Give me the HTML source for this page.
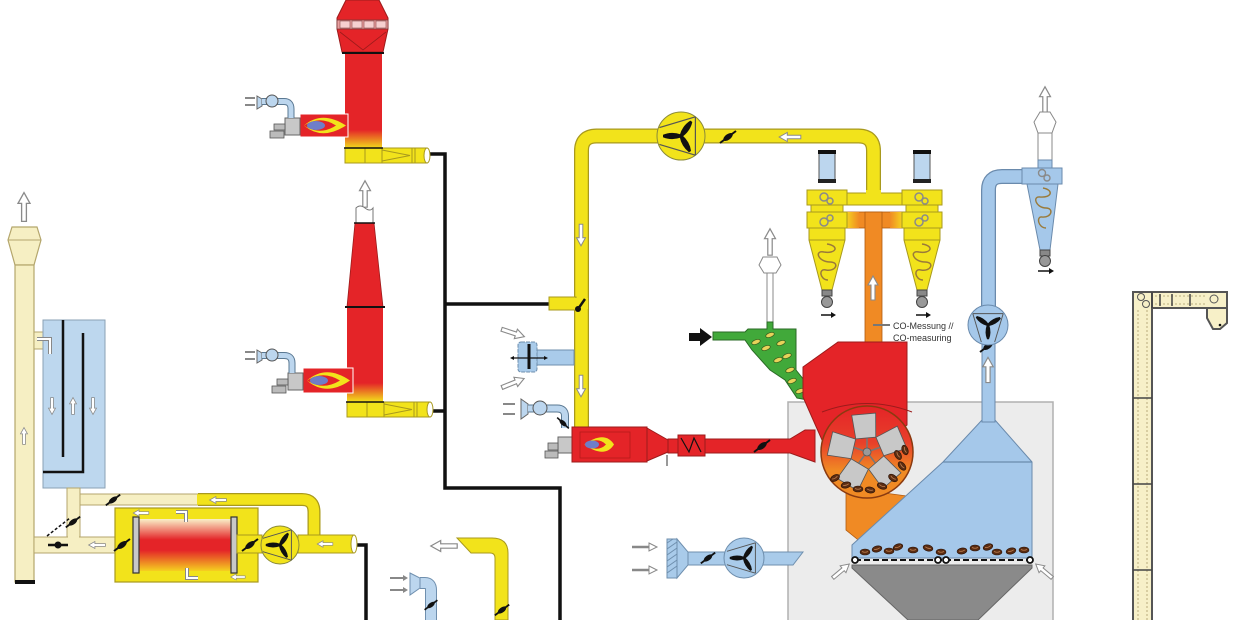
<!DOCTYPE html>
<html><head><meta charset="utf-8"><style>html,body{margin:0;padding:0;background:#fff}svg{display:block}</style></head>
<body>
<svg xmlns="http://www.w3.org/2000/svg" width="1240" height="620" viewBox="0 0 1240 620">
<defs>
<linearGradient id="gch" x1="0" y1="0" x2="0" y2="1"><stop offset="0" stop-color="#e42428"/><stop offset="0.8" stop-color="#e42428"/><stop offset="1" stop-color="#f2e31b"/></linearGradient>
<linearGradient id="ghx" x1="0" y1="0" x2="0" y2="1"><stop offset="0" stop-color="#faf0c8"/><stop offset="0.4" stop-color="#e42428"/><stop offset="0.6" stop-color="#e42428"/><stop offset="1" stop-color="#f5d020"/></linearGradient>
<linearGradient id="gdr" x1="0" y1="0" x2="0" y2="1"><stop offset="0" stop-color="#e42428"/><stop offset="0.4" stop-color="#e8402a"/><stop offset="0.7" stop-color="#f08a24"/><stop offset="1" stop-color="#f08a24"/></linearGradient>
<linearGradient id="goyL" x1="0" y1="0" x2="1" y2="0"><stop offset="0" stop-color="#f5d020"/><stop offset="1" stop-color="#f08a24"/></linearGradient>
<linearGradient id="goyR" x1="0" y1="0" x2="1" y2="0"><stop offset="0" stop-color="#f08a24"/><stop offset="1" stop-color="#f5d020"/></linearGradient>
<g id="arr"><polygon points="-12,-2 3,-2 3,-5 12,0 3,5 3,2 -12,2" fill="#fff" stroke="#8a8a8a" stroke-width="1.1"/></g>
<g id="dmp"><line x1="-8" y1="6" x2="8" y2="-6" stroke="#111" stroke-width="2"/><ellipse rx="5.5" ry="2.8" transform="rotate(-37)" fill="#111"/></g>
<g id="fanp">
 <g fill="none" stroke="#555" stroke-width="1"><line x1="-18" y1="-7" x2="12" y2="-16"/><line x1="-18" y1="7" x2="12" y2="16"/><line x1="12" y1="-16" x2="12" y2="16"/></g>
 <g fill="#111"><path d="M0,-1.3 Q8,-4 15,-1 L15,1 Q8,4 0,1.3Z" transform="rotate(180)"/><path d="M0,-1.3 Q8,-4 15,-1 L15,1 Q8,4 0,1.3Z" transform="rotate(-55)"/><path d="M0,-1.3 Q8,-4 15,-1 L15,1 Q8,4 0,1.3Z" transform="rotate(60)"/></g>
</g>
<g id="bean"><ellipse rx="5" ry="3" fill="#5a2c12" stroke="#2a1206" stroke-width="0.6"/><path d="M-3,-0.5 Q0,1 3,-0.5" stroke="#c08050" stroke-width="0.8" fill="none"/></g>
<g id="gbean"><ellipse rx="4.5" ry="2.2" fill="#e8d35a" stroke="#3a5a1a" stroke-width="0.7"/></g>
</defs>

<!-- grey box -->
<rect x="788" y="402" width="265" height="230" fill="#ececec" stroke="#b0b0b0" stroke-width="1.5"/>

<!-- black lines -->
<g fill="none" stroke="#111" stroke-width="3.5">
<path d="M424,154 L445,154 L445,488 L560,488 L560,620"/>
<path d="M430,411 L445,411"/>
<path d="M445,304 L551,304"/>
<path d="M352,545 L366,545 L366,620"/>
</g>

<!-- far left column -->
<use href="#arr" transform="translate(24,207) rotate(-90) scale(1.2)"/>
<polygon points="12,227 37,227 41,240 34,265 15,265 8,240" fill="#f6efc3" stroke="#b4a66c" stroke-width="1.2"/>
<line x1="8" y1="240" x2="41" y2="240" stroke="#b4a66c"/>
<rect x="15" y="265" width="19" height="317" fill="#f6efc3" stroke="#b4a66c" stroke-width="1.2"/>
<rect x="15" y="580" width="20" height="4" fill="#111"/>
<use href="#arr" transform="translate(24,436) rotate(-90) scale(0.7)"/>
<rect x="34" y="332" width="10" height="17" fill="#f6efc3" stroke="#b4a66c"/>
<rect x="43" y="320" width="62" height="168" fill="#bdd7ee" stroke="#8aa0b4" stroke-width="1"/>
<path d="M37,339 L50,339 L50,354" fill="none" stroke="#888" stroke-width="4"/>
<path d="M37,339 L50,339 L50,354" fill="none" stroke="#fff" stroke-width="2"/>
<g fill="none" stroke="#111" stroke-width="2.5"><path d="M63,320 L63,457"/><path d="M83,333 L83,472 L43,472"/></g>
<use href="#arr" transform="translate(52,406) rotate(90) scale(0.7)"/>
<use href="#arr" transform="translate(73,406) rotate(-90) scale(0.7)"/>
<use href="#arr" transform="translate(93,406) rotate(90) scale(0.7)"/>

<!-- cream pipes -->
<rect x="67" y="488" width="13" height="50" fill="#f6efc3" stroke="#b4a66c"/>
<rect x="80" y="494" width="118" height="11" fill="#f6efc3" stroke="#b4a66c"/>
<rect x="34" y="537" width="82" height="16" fill="#f6efc3" stroke="#b4a66c"/>
<rect x="68" y="530" width="11" height="10" fill="#f6efc3"/>
<use href="#arr" transform="translate(97,545) rotate(180) scale(0.7)"/>

<!-- yellow upper duct bottom-left -->
<path d="M198,499.5 L302,499.5 Q314,499.5 314,512 L314,536" fill="none" stroke="#a8991e" stroke-width="13"/>
<path d="M197,499.5 L302,499.5 Q314,499.5 314,512 L314,537" fill="none" stroke="#f2e31b" stroke-width="10.5"/>
<use href="#arr" transform="translate(218,500) rotate(180) scale(0.7)"/>

<!-- heat exchanger -->
<rect x="115" y="508" width="143" height="74" fill="#f2e31b" stroke="#a8991e" stroke-width="1.2"/>
<rect x="139" y="519" width="92" height="52" fill="url(#ghx)"/>
<rect x="133" y="517" width="6" height="56" fill="#c8c8c8" stroke="#333" stroke-width="1.2"/>
<rect x="231" y="517" width="6" height="56" fill="#c8c8c8" stroke="#333" stroke-width="1.2"/>
<use href="#arr" transform="translate(141,513) rotate(180) scale(0.65)"/>
<path d="M176,512 L186,512 L186,522" fill="none" stroke="#888" stroke-width="4"/><path d="M176,512 L186,512 L186,522" fill="none" stroke="#fff" stroke-width="2"/>
<path d="M187,568 L187,578 L198,578" fill="none" stroke="#888" stroke-width="4"/><path d="M187,568 L187,578 L198,578" fill="none" stroke="#fff" stroke-width="2"/>
<use href="#arr" transform="translate(238,577) rotate(180) scale(0.6)"/>
<!-- yellow fan duct -->
<rect x="237" y="535" width="25" height="18" fill="#f2e31b" stroke="#a8991e"/>
<rect x="298" y="535" width="56" height="18" fill="#f2e31b" stroke="#a8991e"/>
<ellipse cx="354" cy="544" rx="3" ry="9" fill="#fff" stroke="#a8991e"/>
<use href="#arr" transform="translate(325,544) rotate(180) scale(0.65)"/>
<circle cx="280" cy="545" r="19" fill="#f2e31b" stroke="#8a8a3a" stroke-width="1"/>
<use href="#fanp" transform="translate(280,545) scale(0.95)"/>
<use href="#dmp" transform="translate(113,500) scale(0.9)"/>
<use href="#dmp" transform="translate(73,522) scale(0.9)"/>
<use href="#dmp" transform="translate(122,545)"/>
<use href="#dmp" transform="translate(250,545)"/>
<line x1="47" y1="536" x2="70" y2="518" stroke="#111" stroke-width="1.5" stroke-dasharray="3,2"/>
<line x1="48" y1="545" x2="68" y2="545" stroke="#111" stroke-width="2.5"/><circle cx="58" cy="545" r="3.5" fill="#111"/>

<!-- chimney 1 -->
<polygon points="346,0 379,0 388,18 388,29 383,52 342,52 337,29 337,18" fill="#e42428" stroke="#9c1b1b" stroke-width="1"/>
<rect x="337" y="20" width="51" height="9" fill="#e9a0a0" stroke="#7a3a3a" stroke-width="0.8"/>
<g fill="#f6d0d0" stroke="#8a4a4a" stroke-width="0.6"><rect x="340" y="21" width="10" height="7"/><rect x="352" y="21" width="10" height="7"/><rect x="364" y="21" width="10" height="7"/><rect x="376" y="21" width="10" height="7"/></g>
<path d="M340,32 L363,50 L386,32" fill="none" stroke="#9c1b1b" stroke-width="0.8"/>
<rect x="345" y="53" width="37" height="96" fill="url(#gch)"/>
<line x1="342" y1="53" x2="384" y2="53" stroke="#111" stroke-width="2"/>
<rect x="345" y="148" width="82" height="15" fill="#f2e31b" stroke="#a8991e"/>
<g stroke="#a8991e" fill="none"><line x1="365" y1="148" x2="365" y2="163"/><line x1="382" y1="148" x2="382" y2="163"/><path d="M382,150 L410,155.5 L382,161"/><line x1="412" y1="148" x2="412" y2="163"/><line x1="415" y1="148" x2="415" y2="163"/></g>
<line x1="344" y1="148" x2="383" y2="148" stroke="#111" stroke-width="1.5"/>
<ellipse cx="427" cy="155.5" rx="3" ry="7.5" fill="#fff" stroke="#a8991e"/>
<!-- burner 1 -->
<rect x="300" y="114" width="48" height="23" fill="#e42428" stroke="#fff" stroke-width="1"/>
<path d="M304,125.5 Q322,110 346,125.5 Q322,141 304,125.5Z" fill="#f2e31b"/>
<path d="M304,125.5 Q320,115 336,125.5 Q320,136 304,125.5Z" fill="#e42428"/>
<ellipse cx="316" cy="125.5" rx="9" ry="4.5" fill="#6f7ec8"/>
<rect x="285" y="118" width="15" height="17" fill="#c8c8c8" stroke="#666"/>
<g fill="#bbb" stroke="#555" stroke-width="0.8"><rect x="274" y="124" width="11" height="6"/><rect x="270" y="131" width="14" height="7"/></g>
<line x1="245" y1="98" x2="255" y2="98" stroke="#888" stroke-width="2"/><line x1="245" y1="105" x2="255" y2="105" stroke="#888" stroke-width="2"/>
<polygon points="257,96 262,99 262,106 257,109" fill="#bcd6ee" stroke="#666"/>
<path d="M262,101.5 L284,101.5 Q291,101.5 291,109 L291,118" fill="none" stroke="#5a7892" stroke-width="7"/>
<path d="M262,101.5 L284,101.5 Q291,101.5 291,109 L291,118" fill="none" stroke="#bcd6ee" stroke-width="5"/>
<circle cx="272" cy="101" r="6" fill="#bcd6ee" stroke="#555"/>

<!-- chimney 2 -->
<use href="#arr" transform="translate(365,194) rotate(-90) scale(1.1)"/>
<path d="M356,208 Q360,204 365,208 Q370,212 373,208 L373,223 L356,223Z" fill="#fff" stroke="#777"/>
<polygon points="355,223 374,223 383,307 347,307" fill="#e42428" stroke="#9c1b1b" stroke-width="0.8"/>
<line x1="354" y1="223" x2="375" y2="223" stroke="#111" stroke-width="1.5"/>
<rect x="347" y="307" width="36" height="95" fill="url(#gch)"/>
<line x1="345" y1="307" x2="385" y2="307" stroke="#111" stroke-width="2"/>
<rect x="347" y="402" width="83" height="15" fill="#f2e31b" stroke="#a8991e"/>
<g stroke="#a8991e" fill="none"><line x1="367" y1="402" x2="367" y2="417"/><line x1="384" y1="402" x2="384" y2="417"/><path d="M384,404 L412,409.5 L384,415"/><line x1="414" y1="402" x2="414" y2="417"/><line x1="417" y1="402" x2="417" y2="417"/></g>
<line x1="346" y1="402" x2="384" y2="402" stroke="#111" stroke-width="1.5"/>
<ellipse cx="430" cy="409.5" rx="3" ry="7.5" fill="#fff" stroke="#a8991e"/>
<!-- burner 2 -->
<rect x="303" y="368" width="50" height="25" fill="#e42428" stroke="#fff" stroke-width="1"/>
<path d="M307,380.5 Q326,364 350,380.5 Q326,397 307,380.5Z" fill="#f2e31b"/>
<path d="M307,380.5 Q323,370 340,380.5 Q323,391 307,380.5Z" fill="#e42428"/>
<ellipse cx="319" cy="380.5" rx="9" ry="4.5" fill="#6f7ec8"/>
<rect x="288" y="373" width="15" height="17" fill="#c8c8c8" stroke="#666"/>
<g fill="#bbb" stroke="#555" stroke-width="0.8"><rect x="277" y="379" width="11" height="6"/><rect x="272" y="386" width="14" height="7"/></g>
<line x1="245" y1="352" x2="255" y2="352" stroke="#888" stroke-width="2"/><line x1="245" y1="359" x2="255" y2="359" stroke="#888" stroke-width="2"/>
<polygon points="257,350 262,353 262,360 257,363" fill="#bcd6ee" stroke="#666"/>
<path d="M262,355.5 L284,355.5 Q292,355.5 292,363 L292,373" fill="none" stroke="#5a7892" stroke-width="7"/>
<path d="M262,355.5 L284,355.5 Q292,355.5 292,363 L292,373" fill="none" stroke="#bcd6ee" stroke-width="5"/>
<circle cx="272" cy="355" r="6" fill="#bcd6ee" stroke="#555"/>

<!-- main yellow loop -->
<path d="M581.5,428 L581.5,151 Q581.5,136 596.5,136 L858.5,136 Q873.5,136 873.5,151 L873.5,200" fill="none" stroke="#a8991e" stroke-width="15"/>
<path d="M581.5,429 L581.5,151 Q581.5,136 596.5,136 L858.5,136 Q873.5,136 873.5,151 L873.5,201" fill="none" stroke="#f2e31b" stroke-width="12.5"/>
<rect x="549" y="297" width="27" height="13" fill="#f2e31b" stroke="#a8991e"/>
<rect x="575" y="298" width="13" height="11" fill="#f2e31b"/>
<use href="#arr" transform="translate(581,235) rotate(90) scale(0.9)"/>
<use href="#arr" transform="translate(581,386) rotate(90) scale(0.9)"/>
<use href="#arr" transform="translate(790,137) rotate(180) scale(0.9)"/>
<use href="#dmp" transform="translate(728,137)"/>
<g transform="translate(578,309)"><line x1="0" y1="0" x2="7" y2="-10" stroke="#111" stroke-width="2.5"/><circle r="3" fill="#111"/></g>
<circle cx="681" cy="136" r="24" fill="#f2e31b" stroke="#8a8a3a" stroke-width="1"/>
<use href="#fanp" transform="translate(681,136) scale(1.2)"/>

<!-- cyclones -->
<rect x="847" y="193" width="55" height="12" fill="#f2e31b" stroke="#a8991e"/>
<rect x="866" y="190" width="15" height="8" fill="#f2e31b"/>
<!-- orange -->
<rect x="847" y="212" width="55" height="16" fill="#f08a24" stroke="#b05a10" stroke-width="0.8"/>
<rect x="847" y="212" width="12" height="16" fill="url(#goyL)"/>
<rect x="890" y="212" width="12" height="16" fill="url(#goyR)"/>
<rect x="865" y="212" width="17" height="132" fill="#f08a24" stroke="#b05a10" stroke-width="0.8"/>
<rect x="866" y="213" width="15" height="15" fill="#f08a24"/>
<use href="#arr" transform="translate(873,288) rotate(-90) scale(1)"/>
<g id="cyc">
<rect x="819" y="152" width="16" height="30" fill="#bcd6ee" stroke="#555"/>
<rect x="818" y="150" width="18" height="4" fill="#111"/>
<rect x="818" y="179" width="18" height="4" fill="#222"/>
<rect x="807" y="190" width="40" height="15" fill="#f2e31b" stroke="#a8991e"/>
<rect x="811" y="205" width="32" height="7" fill="#f2e31b" stroke="#a8991e"/>
<rect x="807" y="212" width="40" height="16" fill="#f2e31b" stroke="#a8991e"/>
<polygon points="809,228 845,228 845,240 832,290 822,290 809,240" fill="#f2e31b" stroke="#a8991e"/>
<line x1="809" y1="240" x2="845" y2="240" stroke="#a8991e"/>
<path d="M827,244 C840,246 836,254 824,252 C814,250 818,262 830,262 C840,262 836,272 826,270 C818,268 820,280 828,280" fill="none" stroke="#9a7a3a" stroke-width="1.5"/>
<g fill="none" stroke="#8a8a8a" stroke-width="1.5"><circle cx="824" cy="197" r="4"/><circle cx="830" cy="201" r="3"/><circle cx="824" cy="222" r="4"/><circle cx="830" cy="218" r="3"/></g>
<rect x="822" y="290" width="10" height="6" fill="#888" stroke="#444"/>
<circle cx="827" cy="302" r="5.5" fill="#999" stroke="#444"/>
<line x1="821" y1="315" x2="831" y2="315" stroke="#111" stroke-width="1.5"/><polygon points="831,312 836,315 831,318" fill="#111"/>
</g>
<use href="#cyc" transform="translate(95,0)"/>
<line x1="873" y1="325" x2="890" y2="325" stroke="#777" stroke-width="2"/>
<text x="893" y="329" font-family="Liberation Sans, sans-serif" font-size="9" fill="#333">CO-Messung //</text>
<text x="893" y="341" font-family="Liberation Sans, sans-serif" font-size="9" fill="#333">CO-measuring</text>

<!-- white stack green -->
<use href="#arr" transform="translate(770,242) rotate(-90) scale(1.1)"/>
<polygon points="763,257 777,257 781,265 776,273 764,273 759,265" fill="#fff" stroke="#888"/>
<rect x="767" y="273" width="6" height="50" fill="#fff" stroke="#888"/>
<!-- green hopper -->
<polygon points="689,333 700,333 700,328 712,337 700,346 700,341 689,341" fill="#111"/>
<polygon points="713,332 745,332 748,329 767,329 767,322 773,322 773,329 796,329 796,370 808,385 808,400 797,398 785,380 770,370 752,350 745,340 713,340" fill="#41a93a" stroke="#2a6a25" stroke-width="1"/>
<use href="#gbean" transform="translate(770,335) rotate(-20)"/>
<use href="#gbean" transform="translate(781,343) rotate(-20)"/>
<use href="#gbean" transform="translate(766,348) rotate(-20)"/>
<use href="#gbean" transform="translate(787,356) rotate(-20)"/>
<use href="#gbean" transform="translate(778,360) rotate(-20)"/>
<use href="#gbean" transform="translate(790,370) rotate(-20)"/>
<use href="#gbean" transform="translate(792,381) rotate(-20)"/>
<use href="#gbean" transform="translate(800,391) rotate(-20)"/>
<use href="#gbean" transform="translate(756,342) rotate(-20)"/>

<!-- blue inlet near yellow -->
<use href="#arr" transform="translate(513,333) rotate(18) scale(1)"/>
<use href="#arr" transform="translate(513,383) rotate(-22) scale(1)"/>
<rect x="537" y="350" width="37" height="15" fill="#a9cbea" stroke="#6f8fae"/>
<rect x="518" y="342" width="19" height="30" rx="3" fill="#a9cbea" stroke="#6f8fae" stroke-dasharray="4,1"/>
<line x1="529" y1="344" x2="529" y2="369" stroke="#111" stroke-width="3"/>
<line x1="512" y1="358" x2="546" y2="358" stroke="#111" stroke-width="1.2"/>
<polygon points="510,358 514,356 514,360" fill="#111"/><polygon points="548,358 544,356 544,360" fill="#111"/>
<!-- burner 3 -->
<line x1="503" y1="404" x2="515" y2="404" stroke="#888" stroke-width="2"/><line x1="503" y1="414" x2="515" y2="414" stroke="#888" stroke-width="2"/>
<polygon points="521,399 528,404 528,414 521,419" fill="#bcd6ee" stroke="#666"/>
<path d="M528,408.5 L557,408.5 Q565,408.5 565,416 L565,428" fill="none" stroke="#5a7892" stroke-width="8"/>
<path d="M528,408.5 L557,408.5 Q565,408.5 565,416 L565,428" fill="none" stroke="#bcd6ee" stroke-width="6"/>
<circle cx="540" cy="408" r="7" fill="#bcd6ee" stroke="#555"/>
<use href="#dmp" transform="translate(563,423) rotate(80) scale(0.8)"/>
<rect x="558" y="437" width="15" height="16" fill="#c8c8c8" stroke="#666"/>
<g fill="#bbb" stroke="#555" stroke-width="0.8"><rect x="548" y="443" width="10" height="7"/><rect x="545" y="451" width="13" height="7"/></g>

<!-- red burner pipe -->
<rect x="572" y="427" width="75" height="35" fill="#e42428" stroke="#9c1b1b"/>
<rect x="580" y="432" width="50" height="26" fill="none" stroke="#b51a1a" stroke-width="0.8"/>
<path d="M584,444.5 Q605,430 614,444.5 Q605,459 584,444.5Z" fill="#f2e31b"/>
<path d="M584,444.5 Q598,436 606,444.5 Q598,453 584,444.5Z" fill="#e42428"/>
<ellipse cx="592" cy="444.5" rx="7" ry="4" fill="#6f7ec8"/>
<polygon points="647,428 668,440 668,452 647,461" fill="#e42428" stroke="#9c1b1b"/>
<line x1="667" y1="455" x2="667" y2="466" stroke="#777" stroke-width="1.5"/>
<polygon points="668,439 790,439 805,430 815,430 815,462 790,453 668,453" fill="#e42428" stroke="#9c1b1b"/>
<rect x="678" y="435" width="27" height="21" fill="#e42428" stroke="#9c1b1b"/>
<path d="M681,438 L689,452 L694,438 L701,452" fill="none" stroke="#111" stroke-width="1.2"/>
<use href="#dmp" transform="translate(762,446)"/>

<!-- orange chute & cooler -->
<polygon points="846,488 907,496 862,543 846,530" fill="#f08a24" stroke="#b05a10" stroke-width="0.8"/>
<polygon points="982,420 995,420 1032,462 1032,558 852,558 852,545 943,462" fill="#a5c8ea" stroke="#6a8aac" stroke-width="1"/>
<line x1="943" y1="462" x2="1032" y2="462" stroke="#6a8aac" stroke-width="1.2"/>
<rect x="982" y="340" width="13" height="82" fill="#a5c8ea" stroke="#6a8aac"/>
<path d="M988.5,340 L988.5,190 Q988.5,176.5 1002,176.5 L1023,176.5" fill="none" stroke="#6a8aac" stroke-width="15"/>
<path d="M988.5,341 L988.5,190 Q988.5,176.5 1002,176.5 L1023,176.5" fill="none" stroke="#a5c8ea" stroke-width="12.5"/>
<rect x="983" y="300" width="11" height="121" fill="#a5c8ea"/>
<use href="#dmp" transform="translate(988,346)"/>
<use href="#arr" transform="translate(988,370) rotate(-90) scale(1.05)"/>
<circle cx="988" cy="325" r="20" fill="#a5c8ea" stroke="#6a8aac" stroke-width="1"/>
<use href="#fanp" transform="translate(988,325) rotate(-90) scale(0.95)"/>
<!-- blue cyclone -->
<use href="#arr" transform="translate(1045,100) rotate(-90) scale(1.1)"/>
<polygon points="1040,112 1050,112 1056,122 1052,133 1038,133 1034,122" fill="#fff" stroke="#888"/>
<rect x="1038" y="133" width="14" height="35" fill="#fff" stroke="#888"/>
<rect x="1038" y="160" width="14" height="8" fill="#a5c8ea" stroke="#6a8aac"/>
<rect x="1022" y="168" width="40" height="16" fill="#a5c8ea" stroke="#6a8aac"/>
<polygon points="1027,184 1058,184 1050,250 1040,250" fill="#a5c8ea" stroke="#6a8aac"/>
<path d="M1043,188 C1054,190 1052,198 1040,197 C1032,196 1036,208 1046,208 C1054,208 1052,218 1042,217 C1036,216 1038,228 1046,228" fill="none" stroke="#9a7a3a" stroke-width="1.4"/>
<g fill="none" stroke="#8a8a8a" stroke-width="1.4"><circle cx="1042" cy="173" r="3.5"/><circle cx="1047" cy="178" r="3"/></g>
<rect x="1040" y="250" width="10" height="6" fill="#888" stroke="#444"/>
<circle cx="1045" cy="261" r="5.5" fill="#999" stroke="#444"/>
<line x1="1038" y1="271" x2="1049" y2="271" stroke="#111" stroke-width="1.5"/><polygon points="1049,268 1054,271 1049,274" fill="#111"/>

<!-- red roaster body -->
<polygon points="838,342 907,342 907,425 870,455 822,440 803,397 803,367" fill="#e42428" stroke="#9c1b1b"/>
<circle cx="867" cy="452" r="46" fill="url(#gdr)" stroke="#8a3a10" stroke-width="1.5"/>
<path d="M822,412 Q867,395 912,412" fill="none" stroke="#9c1b1b" stroke-width="1"/>
<g transform="translate(867,452)" fill="#c8c8c8" stroke="#555" stroke-width="0.8">
<g stroke="#777" stroke-width="1.5"><line x1="0" y1="0" x2="0" y2="-30"/><line x1="0" y1="0" x2="28" y2="-10"/><line x1="0" y1="0" x2="18" y2="24"/><line x1="0" y1="0" x2="-18" y2="24"/><line x1="0" y1="0" x2="-28" y2="-10"/></g>
<polygon points="14,-10 38,-12 38,12 14,10" transform="rotate(-95)"/>
<polygon points="14,-10 38,-12 38,12 14,10" transform="rotate(-23)"/>
<polygon points="14,-10 38,-12 38,12 14,10" transform="rotate(49)"/>
<polygon points="14,-10 38,-12 38,12 14,10" transform="rotate(121)"/>
<polygon points="14,-10 38,-12 38,12 14,10" transform="rotate(193)"/>
<circle r="4" fill="#999"/>
</g>
<use href="#bean" transform="translate(835,478) rotate(-30)"/>
<use href="#bean" transform="translate(846,485) rotate(-15)"/>
<use href="#bean" transform="translate(858,489)"/>
<use href="#bean" transform="translate(870,490) rotate(10)"/>
<use href="#bean" transform="translate(882,486) rotate(20)"/>
<use href="#bean" transform="translate(893,478) rotate(35)"/>
<use href="#bean" transform="translate(902,466) rotate(50)"/>
<use href="#bean" transform="translate(898,455) rotate(60)"/>
<use href="#bean" transform="translate(905,450) rotate(70)"/>
<!-- cooler beans -->
<use href="#bean" transform="translate(865,552)"/>
<use href="#bean" transform="translate(877,549) rotate(-15)"/>
<use href="#bean" transform="translate(889,551)"/>
<use href="#bean" transform="translate(898,547) rotate(-20)"/>
<use href="#bean" transform="translate(913,550)"/>
<use href="#bean" transform="translate(928,548) rotate(15)"/>
<use href="#bean" transform="translate(941,552)"/>
<use href="#bean" transform="translate(962,551) rotate(-10)"/>
<use href="#bean" transform="translate(975,548)"/>
<use href="#bean" transform="translate(988,547) rotate(-20)"/>
<use href="#bean" transform="translate(997,552)"/>
<use href="#bean" transform="translate(1011,551) rotate(-15)"/>
<use href="#bean" transform="translate(1024,550)"/>
<line x1="855" y1="560" x2="1030" y2="560" stroke="#111" stroke-width="2" stroke-dasharray="6,3"/>
<g fill="#fff" stroke="#111" stroke-width="1.8"><circle cx="855" cy="560" r="3"/><circle cx="938" cy="560" r="3"/><circle cx="946" cy="560" r="3"/><circle cx="1030" cy="560" r="3"/></g>
<polygon points="852,565 1032,565 1032,568 978,620 908,620 852,568" fill="#8a8a8a" stroke="#666"/>
<use href="#arr" transform="translate(841,571) rotate(-40) scale(0.9)"/>
<use href="#arr" transform="translate(1044,571) rotate(-140) scale(0.9)"/>

<!-- bottom blue fan assembly -->
<line x1="632" y1="547" x2="650" y2="547" stroke="#888" stroke-width="2.5"/><polygon points="649,543 657,547 649,551" fill="#fff" stroke="#888"/>
<line x1="632" y1="570" x2="650" y2="570" stroke="#888" stroke-width="2.5"/><polygon points="649,566 657,570 649,574" fill="#fff" stroke="#888"/>
<rect x="667" y="539" width="10" height="39" fill="#a9cbea" stroke="#6f8fae"/>
<g stroke="#6f8fae" stroke-width="1"><line x1="667" y1="543" x2="673" y2="539"/><line x1="667" y1="549" x2="677" y2="542"/><line x1="667" y1="555" x2="677" y2="548"/><line x1="667" y1="561" x2="677" y2="554"/><line x1="667" y1="567" x2="677" y2="560"/><line x1="667" y1="573" x2="677" y2="566"/></g>
<polygon points="677,539 688,552 688,565 677,578" fill="#a9cbea" stroke="#6f8fae"/>
<rect x="688" y="552" width="40" height="13" fill="#a9cbea" stroke="#6f8fae"/>
<polygon points="760,552 803,552 793,565 760,565" fill="#a9cbea" stroke="#6f8fae"/>
<use href="#dmp" transform="translate(708,558) scale(0.9)"/>
<circle cx="744" cy="558" r="20" fill="#a9cbea" stroke="#6f8fae"/>
<use href="#fanp" transform="translate(744,558) scale(0.95)"/>

<!-- bottom center pipes -->
<use href="#arr" transform="translate(444,546) rotate(180) scale(1.1)"/>
<path d="M457,538 L492,538 Q508,538 508,553 L508,620 L495,620 L495,558 Q495,553 490,553 L471,553 Z" fill="#f2e31b" stroke="#a8991e"/>
<use href="#dmp" transform="translate(502,610) scale(0.9)"/>
<line x1="390" y1="578" x2="404" y2="578" stroke="#888" stroke-width="2"/><polygon points="403,575 408,578 403,581" fill="#888"/>
<line x1="390" y1="590" x2="404" y2="590" stroke="#888" stroke-width="2"/><polygon points="403,587 408,590 403,593" fill="#888"/>
<path d="M420,583 L425,583 Q431,583 431,590 L431,620" fill="none" stroke="#6f8fae" stroke-width="12"/>
<path d="M420,583 L425,583 Q431,583 431,590 L431,621" fill="none" stroke="#bcd6ee" stroke-width="10"/>
<polygon points="410,573 420,578 420,588 410,595" fill="#bcd6ee" stroke="#6f8fae"/>
<use href="#dmp" transform="translate(431,605) scale(0.8)"/>

<!-- far right structure -->
<g stroke="#555" stroke-width="2" fill="#f7f0c8">
<rect x="1133" y="292" width="94" height="16"/>
<rect x="1133" y="292" width="19" height="330"/>
<polygon points="1207,308 1227,308 1227,323 1220,329 1213,329 1207,318"/>
</g>
<g stroke="#a89a6a" stroke-width="0.8" stroke-dasharray="2,2" fill="none"><line x1="1138" y1="310" x2="1138" y2="620"/><line x1="1147" y1="310" x2="1147" y2="620"/><line x1="1155" y1="296" x2="1205" y2="296"/><line x1="1155" y1="304" x2="1205" y2="304"/></g>
<g stroke="#444" stroke-width="1.5"><line x1="1133" y1="398" x2="1152" y2="398"/><line x1="1133" y1="484" x2="1152" y2="484"/><line x1="1133" y1="570" x2="1152" y2="570"/><line x1="1152" y1="308" x2="1152" y2="292"/><line x1="1160" y1="294" x2="1160" y2="306"/><line x1="1172" y1="294" x2="1172" y2="306"/><line x1="1190" y1="294" x2="1190" y2="306"/></g>
<g fill="none" stroke="#555" stroke-width="1"><circle cx="1141" cy="297" r="3.5"/><circle cx="1146" cy="304" r="3.5"/><circle cx="1214" cy="299" r="4"/></g>
<circle cx="1220" cy="325" r="1.3" fill="#111"/>
</svg>
</body></html>
